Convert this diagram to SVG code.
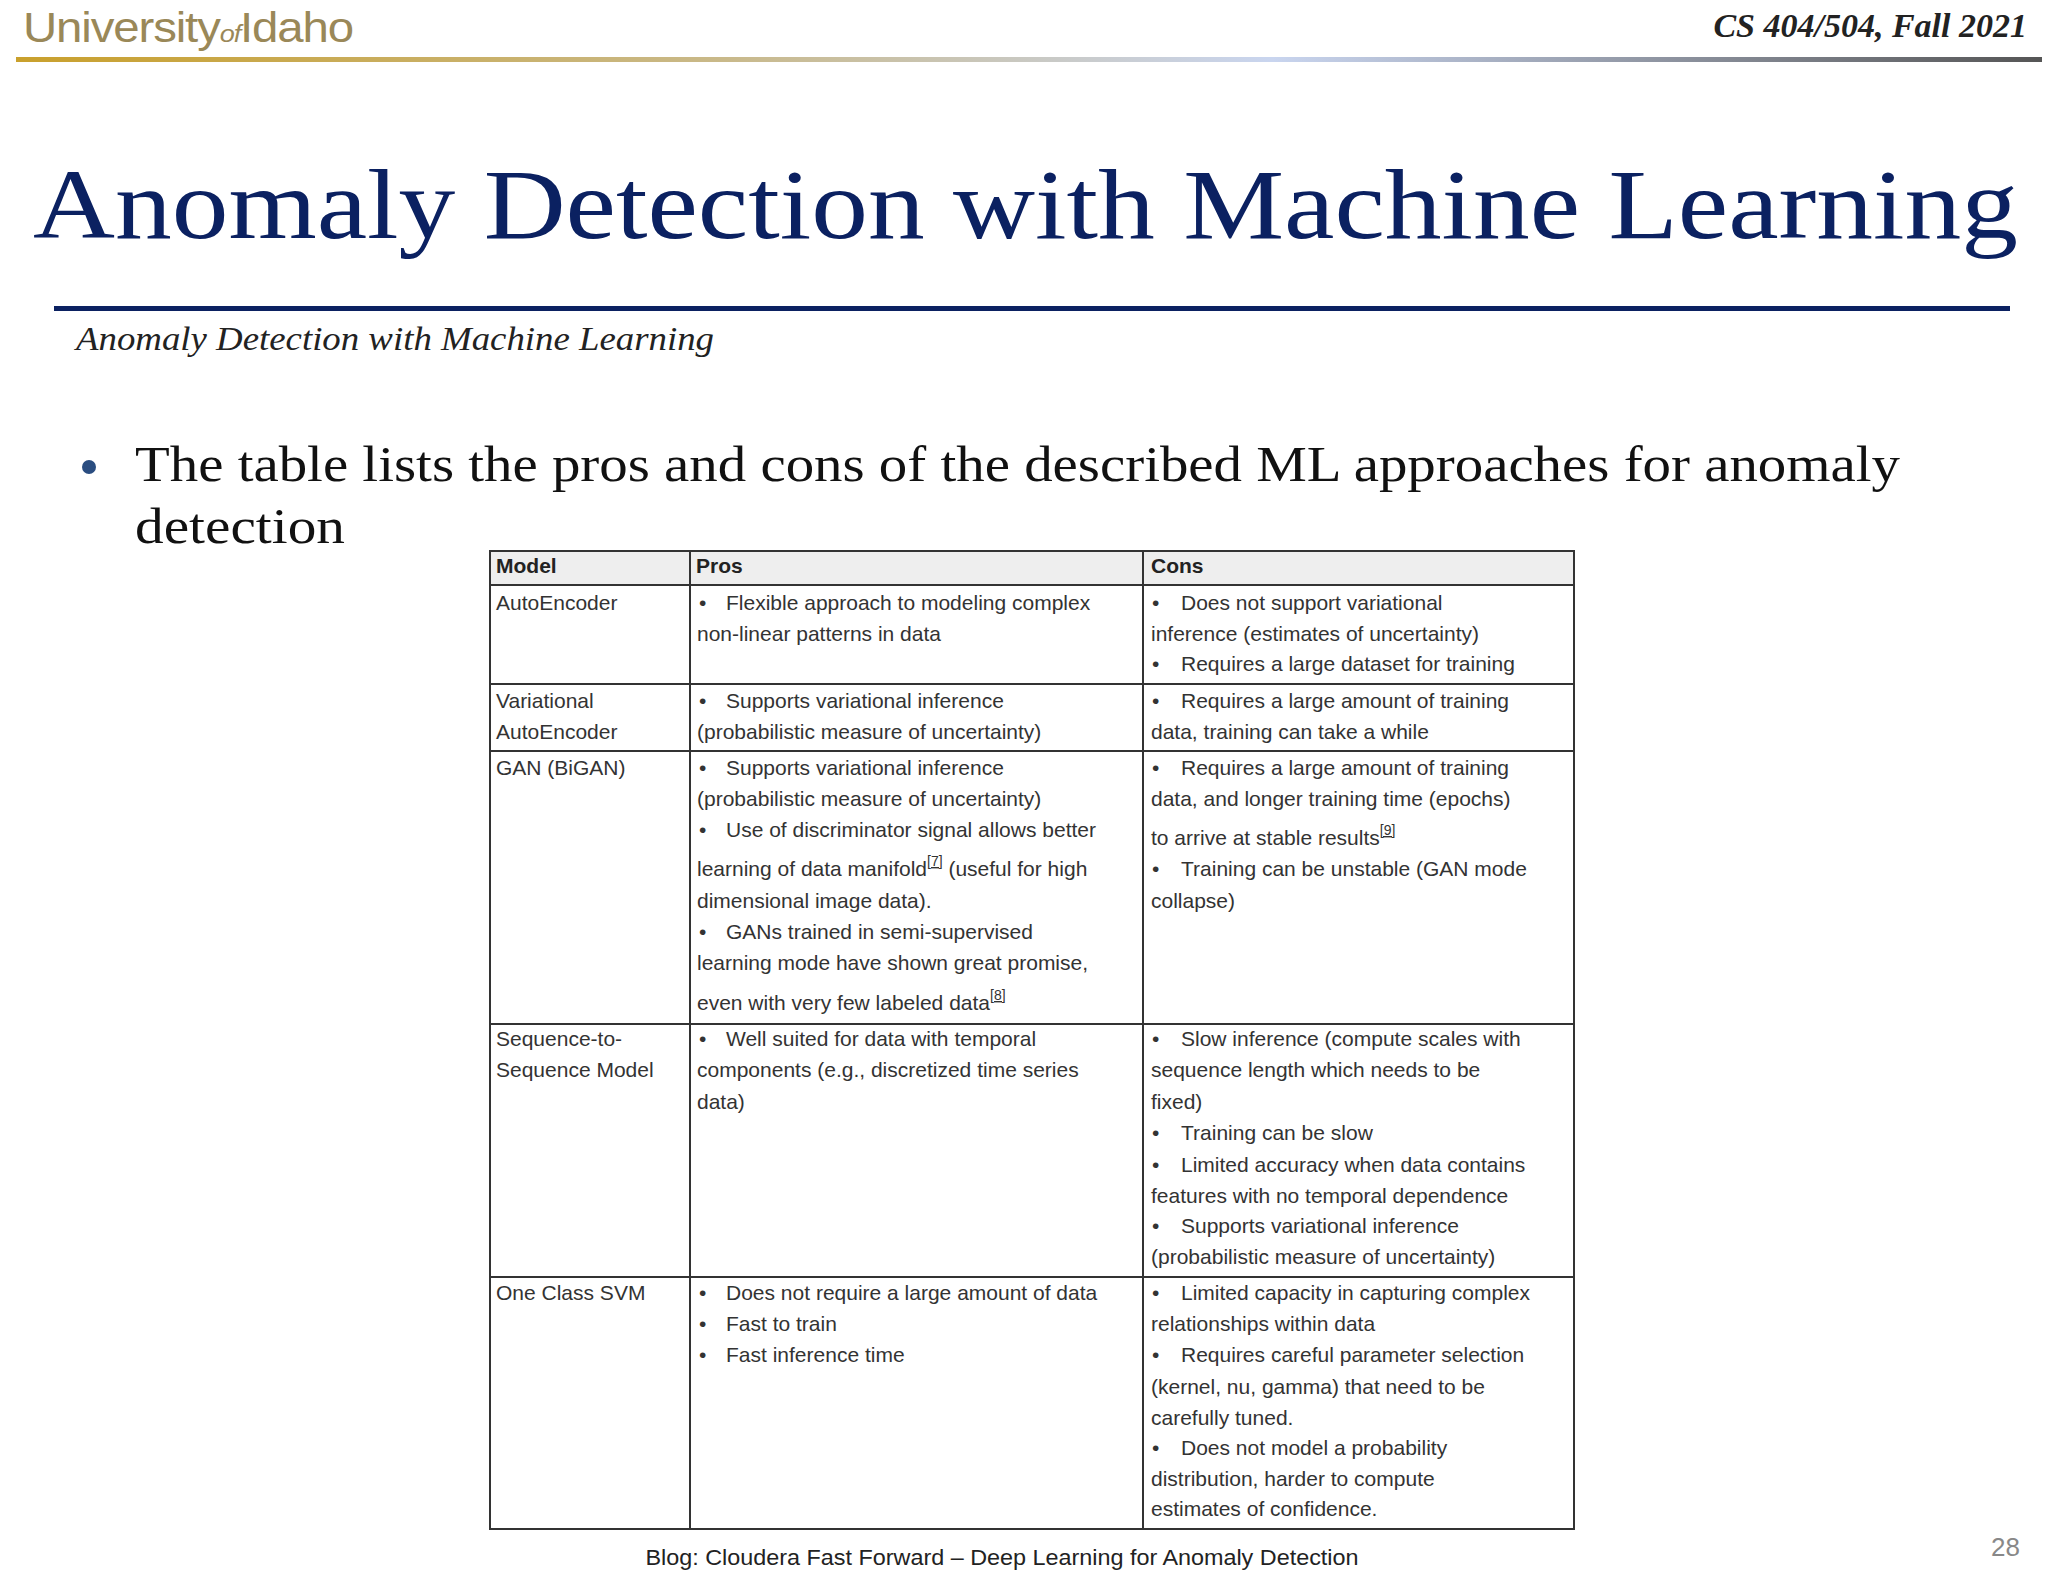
<svg xmlns="http://www.w3.org/2000/svg" width="2048" height="1582" viewBox="0 0 2048 1582">
<defs>
<linearGradient id="hl" x1="0" x2="1" y1="0" y2="0">
<stop offset="0" stop-color="#c9a02c"/><stop offset="0.35" stop-color="#c9b98a"/><stop offset="0.62" stop-color="#c9d5ef"/><stop offset="1" stop-color="#555"/>
</linearGradient>
<style>
.t{font-family:"Liberation Sans",Arial,sans-serif;font-size:21px;fill:#333}
.h{font-family:"Liberation Sans",Arial,sans-serif;font-size:21px;font-weight:bold;fill:#222}
.sup{font-size:14px;text-decoration:underline}
.ln{stroke:#333;stroke-width:2;fill:none}
</style>
</defs>
<rect width="2048" height="1582" fill="#fff"/>
<g id="header">
<text x="23" y="42" font-family="Liberation Sans,Arial,sans-serif" font-size="42" fill="#9a8858" letter-spacing="-1" textLength="330" lengthAdjust="spacingAndGlyphs">University<tspan font-size="24" font-style="italic">of</tspan>Idaho</text>
<rect x="16" y="57" width="2026" height="5" fill="url(#hl)"/>
<text x="2027" y="37" text-anchor="end" font-family="Liberation Serif,serif" font-size="34" font-style="italic" font-weight="bold" fill="#222">CS 404/504, Fall 2021</text>
</g>
<g id="title">
<text x="33" y="238" font-family="Liberation Serif,serif" font-size="100" fill="#0b2161" textLength="1985" lengthAdjust="spacingAndGlyphs">Anomaly Detection with Machine Learning</text>
<rect x="54" y="306" width="1956" height="5" fill="#0b2161"/>
<text x="76" y="350" font-family="Liberation Serif,serif" font-size="34" font-style="italic" fill="#222" textLength="638" lengthAdjust="spacingAndGlyphs">Anomaly Detection with Machine Learning</text>
</g>
<g id="bullet">
<circle cx="89" cy="467" r="7" fill="#2a4d80"/>
<text x="135" y="481" font-family="Liberation Serif,serif" font-size="50" fill="#111" textLength="1765" lengthAdjust="spacingAndGlyphs">The table lists the pros and cons of the described ML approaches for anomaly</text>
<text x="135" y="543" font-family="Liberation Serif,serif" font-size="50" fill="#111" textLength="210" lengthAdjust="spacingAndGlyphs">detection</text>
</g>
<g id="table">
<rect x="490" y="551" width="1084" height="34" fill="#eeeeee"/>
<rect x="490" y="551" width="1084" height="978" class="ln"/>
<path class="ln" d="M490 551H1574M490 585H1574M490 684H1574M490 751H1574M490 1024H1574M490 1277H1574M690 551V1529M1143 551V1529"/>
<text class="h" x="496" y="573">Model</text><text class="h" x="696" y="573">Pros</text><text class="h" x="1151" y="573">Cons</text>
<g class="t">
<text x="496" y="610">AutoEncoder</text>
<text x="699" y="610">•</text><text x="726" y="610">Flexible approach to modeling complex</text>
<text x="697" y="641">non-linear patterns in data</text>
<text x="1152" y="610">•</text><text x="1181" y="610">Does not support variational</text>
<text x="1151" y="641">inference (estimates of uncertainty)</text>
<text x="1152" y="671">•</text><text x="1181" y="671">Requires a large dataset for training</text>

<text x="496" y="708">Variational</text><text x="496" y="739">AutoEncoder</text>
<text x="699" y="708">•</text><text x="726" y="708">Supports variational inference</text>
<text x="697" y="739">(probabilistic measure of uncertainty)</text>
<text x="1152" y="708">•</text><text x="1181" y="708">Requires a large amount of training</text>
<text x="1151" y="739">data, training can take a while</text>

<text x="496" y="775">GAN (BiGAN)</text>
<text x="699" y="775">•</text><text x="726" y="775">Supports variational inference</text>
<text x="697" y="806">(probabilistic measure of uncertainty)</text>
<text x="699" y="837">•</text><text x="726" y="837">Use of discriminator signal allows better</text>
<text x="697" y="876">learning of data manifold<tspan class="sup" dy="-10">[7]</tspan><tspan dy="10"> (useful for high</tspan></text>
<text x="697" y="908">dimensional image data).</text>
<text x="699" y="939">•</text><text x="726" y="939">GANs trained in semi-supervised</text>
<text x="697" y="970">learning mode have shown great promise,</text>
<text x="697" y="1010">even with very few labeled data<tspan class="sup" dy="-10">[8]</tspan></text>
<text x="1152" y="775">•</text><text x="1181" y="775">Requires a large amount of training</text>
<text x="1151" y="806">data, and longer training time (epochs)</text>
<text x="1151" y="845">to arrive at stable results<tspan class="sup" dy="-10">[9]</tspan></text>
<text x="1152" y="876">•</text><text x="1181" y="876">Training can be unstable (GAN mode</text>
<text x="1151" y="908">collapse)</text>

<text x="496" y="1046">Sequence-to-</text><text x="496" y="1077">Sequence Model</text>
<text x="699" y="1046">•</text><text x="726" y="1046">Well suited for data with temporal</text>
<text x="697" y="1077">components (e.g., discretized time series</text>
<text x="697" y="1109">data)</text>
<text x="1152" y="1046">•</text><text x="1181" y="1046">Slow inference (compute scales with</text>
<text x="1151" y="1077">sequence length which needs to be</text>
<text x="1151" y="1109">fixed)</text>
<text x="1152" y="1140">•</text><text x="1181" y="1140">Training can be slow</text>
<text x="1152" y="1172">•</text><text x="1181" y="1172">Limited accuracy when data contains</text>
<text x="1151" y="1203">features with no temporal dependence</text>
<text x="1152" y="1233">•</text><text x="1181" y="1233">Supports variational inference</text>
<text x="1151" y="1264">(probabilistic measure of uncertainty)</text>

<text x="496" y="1300">One Class SVM</text>
<text x="699" y="1300">•</text><text x="726" y="1300">Does not require a large amount of data</text>
<text x="699" y="1331">•</text><text x="726" y="1331">Fast to train</text>
<text x="699" y="1362">•</text><text x="726" y="1362">Fast inference time</text>
<text x="1152" y="1300">•</text><text x="1181" y="1300">Limited capacity in capturing complex</text>
<text x="1151" y="1331">relationships within data</text>
<text x="1152" y="1362">•</text><text x="1181" y="1362">Requires careful parameter selection</text>
<text x="1151" y="1394">(kernel, nu, gamma) that need to be</text>
<text x="1151" y="1425">carefully tuned.</text>
<text x="1152" y="1455">•</text><text x="1181" y="1455">Does not model a probability</text>
<text x="1151" y="1486">distribution, harder to compute</text>
<text x="1151" y="1516">estimates of confidence.</text>
</g>
</g>
<g id="footer">
<text x="1002" y="1565" text-anchor="middle" font-family="Liberation Sans,Arial,sans-serif" font-size="22" fill="#222" textLength="713" lengthAdjust="spacingAndGlyphs">Blog: Cloudera Fast Forward – Deep Learning for Anomaly Detection</text>
<text x="2020" y="1556" text-anchor="end" font-family="Liberation Sans,Arial,sans-serif" font-size="26" fill="#888">28</text>
</g>
</svg>
